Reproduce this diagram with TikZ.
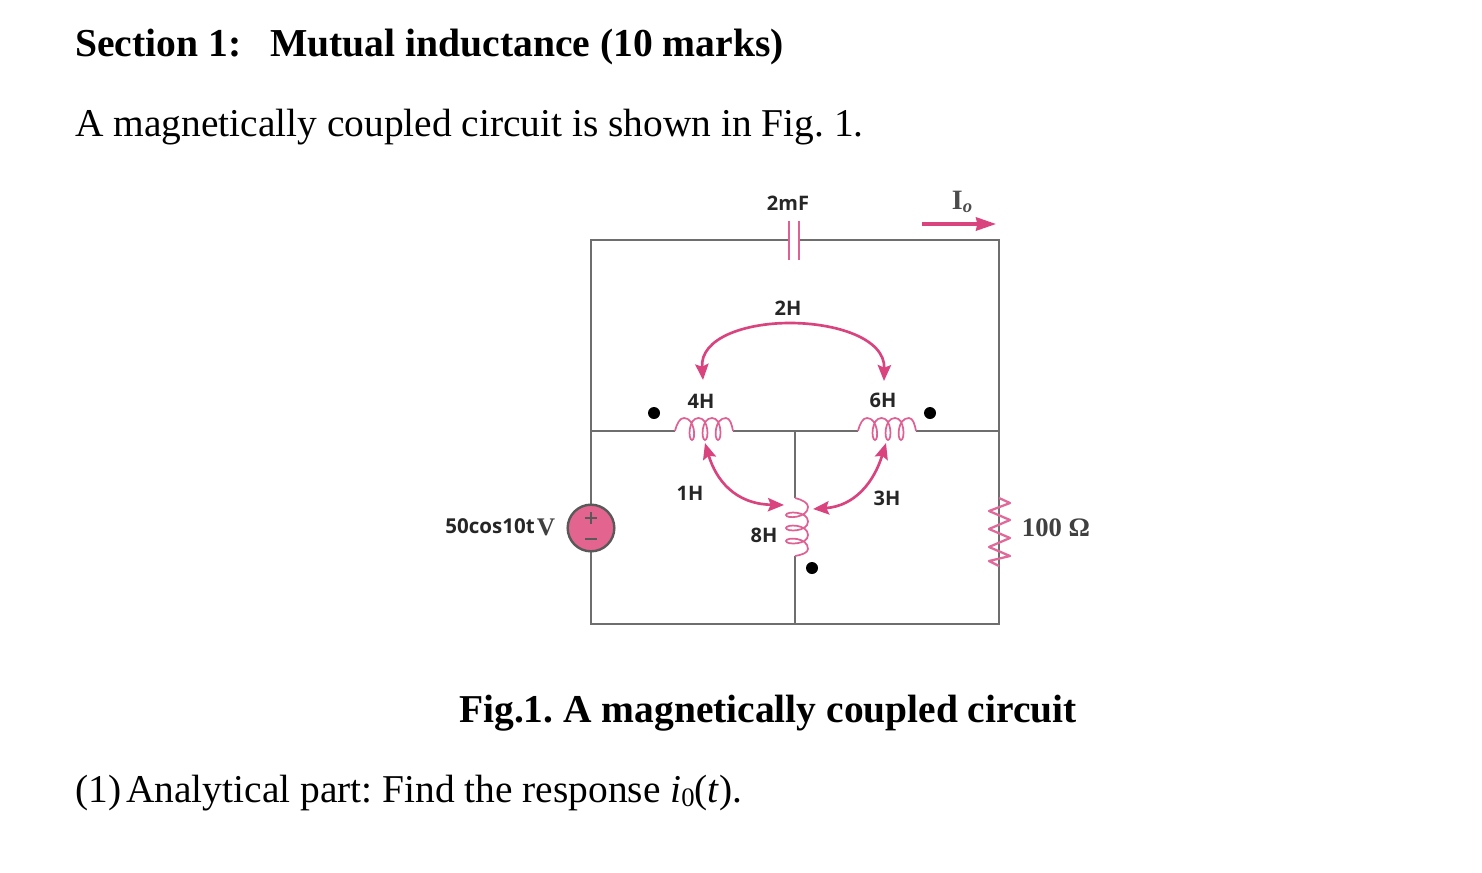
\documentclass[tikz,border=0pt]{standalone}
\usepackage{fontspec}
\setmainfont{Liberation Serif}
\newfontfamily\labelfont{Open Sans}
\frenchspacing
\usetikzlibrary{arrows.meta}
\definecolor{wiregray}{HTML}{6E6E6E}
\definecolor{coilpink}{HTML}{D9447F}
\definecolor{sourcepink}{HTML}{E2648F}
\tikzset{
	wire/.style={line width=1.8pt, color=wiregray},
	pinkline/.style={line width=2pt, color=coilpink!85},
	coupling/.style={line width=2pt, color=coilpink, {Stealth[length=12pt,width=10pt,inset=2pt]}-{Stealth[length=12pt,width=10pt,inset=2pt]}},
	coilwire/.style={line width=1.3pt, color=coilpink!85},
	value/.style={font=\labelfont\fontsize{15}{18}\selectfont\bfseries, color=black!85, inner sep=0pt},
	heading/.style={anchor=base west, inner sep=0pt, font=\fontsize{29.7}{34}\selectfont\bfseries},
	bodytext/.style={anchor=base west, inner sep=0pt, font=\fontsize{29.57}{34}\selectfont},
	phasedot/.style={circle, fill=black, inner sep=0pt, minimum size=9pt},
	signmark/.style={line width=1.6pt, color=black!65},
	coilpic/.pic={
		\draw[coilwire] (0, 0) .. controls (2, -8) and (5, -13) .. (9, -13)
			.. controls (20, -13) and (21, 9) .. (17, 9) .. controls (13, 9) and (13, -13) .. (23.5, -13)
			.. controls (34, -13) and (34, 9) .. (30, 9) .. controls (26, 9) and (26, -13) .. (37, -13)
			.. controls (47, -13) and (47, 9) .. (43, 9) .. controls (39, 9) and (39, -13) .. (51, -13)
			.. controls (55, -13) and (57, -6) .. (58, 0);
	},
}
\begin{document}
\begin{tikzpicture}[x=0.75pt, y=-0.75pt]
			%%%%% TEXT %%%%%
			\useasboundingbox (0, 0) rectangle (1482, 872);
			\node[heading] (sectitle) at (75, 56) {Section 1:};
			\node[heading] (secname) at (270, 56) {Mutual inductance (10 marks)};
			\node[bodytext] (intro) at (75, 136) {A magnetically coupled circuit is shown in Fig. 1.};
			\node[heading, font=\fontsize{29.6}{34}\selectfont\bfseries] (figcap) at (459, 722.5) {Fig.1. A magnetically coupled circuit};
			\node[bodytext] (partnum) at (75, 802) {(1)};
			\node[bodytext] (question) at (126, 802) {Analytical part: Find the response \textit{i}{\fontsize{20}{20}\selectfont\raisebox{-3pt}{0}}(\textit{t}).};
			
			%%%%% CIRCUIT %%%%%
			\coordinate (topleft) at (591, 240);
			\coordinate (topright) at (999, 240);
			\coordinate (botleft) at (591, 624);
			\coordinate (botright) at (999, 624);
			\coordinate (midleft) at (591, 431);
			\coordinate (midright) at (999, 431);
			\coordinate (midtop) at (795, 431);
			\coordinate (midbot) at (795, 624);
			\coordinate (capleft) at (789, 240);
			\coordinate (capright) at (799, 240);
			\coordinate (ell4a) at (675, 431);
			\coordinate (ell4b) at (733, 431);
			\coordinate (ell6a) at (858, 431);
			\coordinate (ell6b) at (916, 431);
			\coordinate (ell8a) at (795, 498);
			\coordinate (ell8b) at (795, 556);
			\coordinate (resa) at (999, 498);
			\coordinate (resb) at (999, 566);
			
			\draw[wire] (capleft) -- (topleft) -- (botleft) -- (botright) -- (topright) -- (capright);
			\draw[wire] (midleft) -- (ell4a);
			\draw[wire] (ell4b) -- (ell6a);
			\draw[wire] (ell6b) -- (midright);
			\draw[wire] (midtop) -- (ell8a);
			\draw[wire] (ell8b) -- (midbot);
			
			% capacitor
			\draw[pinkline] (789, 221) -- (789, 260);
			\draw[pinkline] (799, 221) -- (799, 260);
			
			% inductors
			\pic at (ell4a) {coilpic};
			\pic at (ell6a) {coilpic};
			\pic[rotate=-90] at (ell8a) {coilpic};
			
			% resistor
			\draw[line width=1.7pt, line join=round, color=coilpink!80] (resa) -- (1010, 503) -- (989, 511) -- (1010, 520) -- (989, 529) -- (1010, 538) -- (989, 547) -- (1010, 556) -- (989, 561) -- (resb);
			
			% source
			\node[circle, draw=black!65, line width=1.8pt, fill=sourcepink, minimum size=35pt, inner sep=0pt] (src) at (591, 528) {};
			\draw[signmark] (585, 518) -- (597, 518);
			\draw[signmark] (591, 512) -- (591, 524);
			\draw[signmark] (585, 539) -- (597, 539);
			
			% couplings
			\coordinate (c4top) at (703, 380);
			\coordinate (c6top) at (884, 381);
			\coordinate (c4bot) at (705, 443);
			\coordinate (c8left) at (784, 505);
			\coordinate (c6bot) at (886, 443);
			\coordinate (c8right) at (813, 509);
			\draw[coupling] (c4top) .. controls (700, 338) and (745, 323) .. (790, 323) .. controls (835, 323) and (885, 338) .. (c6top);
			\draw[coupling] (c4bot) .. controls (716, 480) and (735, 504) .. (c8left);
			\draw[coupling] (c6bot) .. controls (874, 482) and (855, 506) .. (c8right);
			
			% current arrow
			\coordinate (iofrom) at (922, 224);
			\coordinate (ioto) at (996, 224);
			\draw[line width=2.3pt, color=coilpink, -{Stealth[length=15pt,width=10pt,inset=1pt]}] (iofrom) -- (ioto);
			
			% dots
			\node[phasedot] (dot4) at (654, 413) {};
			\node[phasedot] (dot6) at (930, 413) {};
			\node[phasedot] (dot8) at (812, 568) {};
			
			% labels
			\node[value] (lab2mf) at (788, 203) {2mF};
			\node[value] (lab2h) at (788, 308) {2H};
			\node[value] (lab4h) at (701, 401) {4H};
			\node[value] (lab6h) at (883, 400) {6H};
			\node[value] (lab1h) at (690, 493) {1H};
			\node[value] (lab3h) at (887, 498) {3H};
			\node[value] (lab8h) at (764, 535) {8H};
			\node[value, anchor=east, font=\labelfont\fontsize{15.4}{18}\selectfont\bfseries] (labsrc) at (535, 526) {50cos10t};
			\node[inner sep=0pt, font=\fontsize{19}{20}\selectfont\bfseries, color=black!75] (labv) at (546, 527) {V};
			\node[inner sep=0pt, font=\fontsize{20}{20}\selectfont\bfseries, color=black!75] (labr) at (1056, 528) {100 Ω};
			\node[inner sep=0pt, font=\fontsize{21}{22}\selectfont\bfseries, color=black!70] (labio) at (962, 202) {I\raisebox{-2pt}{\fontsize{14}{14}\selectfont\textit{o}}};
\end{tikzpicture}
\end{document}
